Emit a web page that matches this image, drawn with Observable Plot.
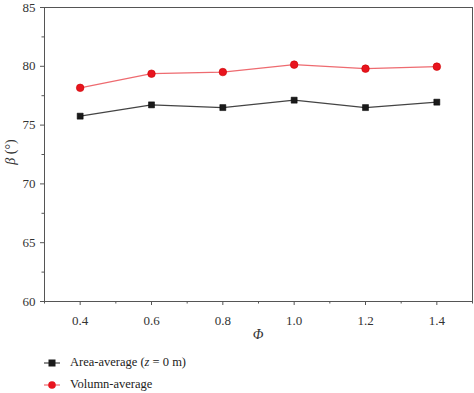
<!DOCTYPE html>
<html><head><meta charset="utf-8">
<script src="https://cdn.jsdelivr.net/npm/d3@7"></script>
<script src="https://cdn.jsdelivr.net/npm/@observablehq/plot@0.6"></script>
<style>
body{margin:0;background:#fff;font-family:'Liberation Serif','Times New Roman',Times,serif;}
svg text{font-family:'Liberation Serif','Times New Roman',Times,serif !important;}
#legend{position:relative;height:48px;font-size:12.5px;color:#222;}
.row{position:absolute;left:44px;display:flex;align-items:center;}
.row > .lab{margin-left:10px;white-space:pre;}
</style></head>
<body><div id="chart"></div><div id="legend"></div>
<script>
const phi = [0.4, 0.6, 0.8, 1.0, 1.2, 1.4];
const areaAverage = [75.76, 76.72, 76.49, 77.12, 76.49, 76.95];
const volumnAverage = [78.17, 79.37, 79.51, 80.14, 79.80, 79.97];
const seriesNames = ["Area-average (z = 0 m)", "Volumn-average"];
const xTicks = [0.4, 0.6, 0.8, 1.0, 1.2, 1.4];
const xMinor = [0.3, 0.5, 0.7, 0.9, 1.1, 1.3, 1.5];
const yTicks = [60, 65, 70, 75, 80, 85];
const yMinor = [62.5, 67.5, 72.5, 77.5, 82.5];

const area = phi.map((x, i) => ({x, y: areaAverage[i]}));
const vol = phi.map((x, i) => ({x, y: volumnAverage[i]}));
const axisColor = "#555";

const chart = Plot.plot({
  width: 474, height: 345,
  marginLeft: 44, marginRight: 2, marginTop: 7, marginBottom: 44,
  style: {fontSize: "13px", color: "#333", background: "#fff"},
  x: {domain: [0.3, 1.5]},
  y: {domain: [60, 85]},
  marks: [
    Plot.frame({stroke: axisColor, strokeWidth: 1}),
    Plot.axisY({ticks: yTicks, tickSize: 4, tickPadding: 5, stroke: axisColor, label: null, tickFormat: d => d}),
    Plot.axisY({ticks: yMinor, tickSize: 2.5, stroke: axisColor, text: null, label: null}),
    Plot.axisX({ticks: xTicks, tickSize: 4, tickPadding: 10, stroke: axisColor, label: null, tickFormat: d => d.toFixed(1)}),
    Plot.axisX({ticks: xMinor, tickSize: 2.5, stroke: axisColor, text: null, label: null}),
    Plot.line(area, {x: "x", y: "y", stroke: "#444", strokeWidth: 1.2}),
    Plot.line(vol, {x: "x", y: "y", stroke: "#ee6b70", strokeWidth: 1.2}),
    Plot.dot(area, {x: "x", y: "y", symbol: "square", r: 3.4, fill: "#1a1a1a", stroke: "#000", strokeWidth: 0.5}),
    Plot.dot(vol, {x: "x", y: "y", symbol: "circle", r: 3.8, fill: "#e8141e", stroke: "#c00", strokeWidth: 0.6})
  ]
});
document.getElementById("chart").appendChild(chart);

// axis titles
const svg = d3.select(chart);
const yl = svg.append("text")
  .attr("transform", "translate(15,152) rotate(-90)")
  .attr("text-anchor", "middle").attr("fill", "#333")
  .style("font-size", "14px");
yl.append("tspan").attr("font-style", "italic").text("β");
yl.append("tspan").text(" (°)");
svg.append("text").attr("x", 258).attr("y", 339).attr("text-anchor", "middle")
  .attr("fill", "#333").attr("font-style", "italic").style("font-size", "14px").text("Φ");

// legend
const leg = d3.select("#legend");
function row(top, name, symbol, color, lineColor, italicZ) {
  const r = leg.append("div").attr("class", "row").style("top", top + "px");
  const s = r.append("svg").attr("width", 16).attr("height", 10);
  s.append("line").attr("x1", 0).attr("x2", 16).attr("y1", 5).attr("y2", 5).attr("stroke", lineColor).attr("stroke-width", 1.2);
  if (symbol === "square") s.append("rect").attr("x", 4.5).attr("y", 1.5).attr("width", 7).attr("height", 7).attr("fill", color);
  else s.append("circle").attr("cx", 8).attr("cy", 5).attr("r", 3.8).attr("fill", color);
  const t = r.append("div").attr("class", "lab");
  if (italicZ) {
    t.html("Area-average (<i>z</i> = 0 m)");
  } else t.text(name);
}
row(10, seriesNames[0], "square", "#1a1a1a", "#444", true);
row(32, seriesNames[1], "circle", "#e8141e", "#ee6b70", false);
</script></body></html>
